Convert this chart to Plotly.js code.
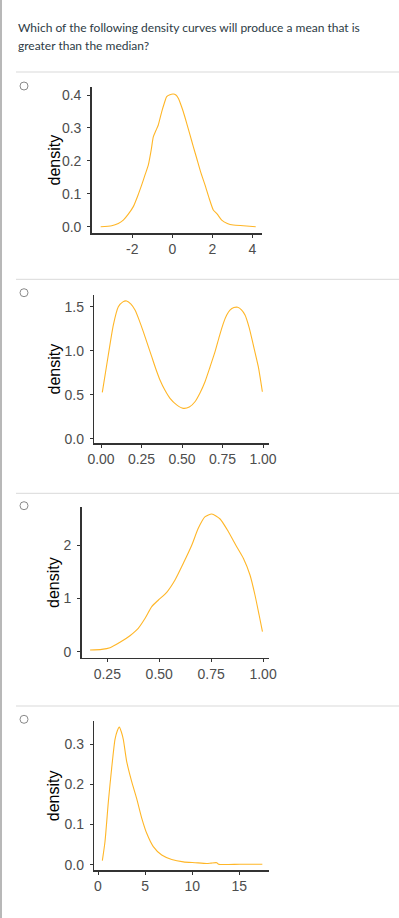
<!DOCTYPE html>
<html>
<head>
<meta charset="utf-8">
<script src="https://cdn.plot.ly/plotly-3.0.1.min.js"></script>
<style>
html,body{margin:0;padding:0;background:#fff;}
#chart{width:399px;height:918px;}
</style>
</head>
<body>
<div id="chart"></div>
<script>
// ---- data ----
const questionLines = ["Which of the following density curves will produce a mean that is", "greater than the median?"];

const normX = [-3.58,-3.03,-2.70,-2.45,-2.20,-1.95,-1.72,-1.53,-1.36,-1.20,-1.05,-0.95,-0.82,-0.70,-0.53,-0.40,-0.28,-0.12,0.05,0.18,0.30,0.42,0.55,0.72,0.885,1.05,1.22,1.42,1.635,1.85,2.05,2.25,2.47,2.75,3.05,3.55,4.17];
const normY = [0.000,0.003,0.010,0.020,0.038,0.061,0.095,0.127,0.158,0.187,0.235,0.273,0.292,0.309,0.349,0.375,0.395,0.401,0.403,0.400,0.390,0.372,0.349,0.314,0.279,0.243,0.208,0.166,0.127,0.085,0.051,0.038,0.020,0.010,0.005,0.003,0.000];

const bimodalX = [0.008,0.045,0.076,0.107,0.135,0.158,0.185,0.21,0.235,0.261,0.287,0.313,0.338,0.364,0.395,0.426,0.467,0.508,0.545,0.580,0.611,0.642,0.673,0.704,0.730,0.755,0.776,0.796,0.820,0.844,0.867,0.889,0.915,0.940,0.971,0.996];
const bimodalY = [0.527,0.951,1.292,1.500,1.555,1.565,1.530,1.462,1.350,1.216,1.075,0.932,0.795,0.667,0.550,0.459,0.385,0.345,0.360,0.420,0.520,0.648,0.815,0.989,1.160,1.311,1.405,1.462,1.490,1.493,1.465,1.406,1.260,1.065,0.818,0.534];

const leftSkewX = [0.167,0.223,0.263,0.311,0.359,0.399,0.432,0.464,0.496,0.536,0.576,0.616,0.657,0.688,0.721,0.753,0.793,0.833,0.873,0.905,0.937,0.961,0.981,0.997];
const leftSkewY = [0.032,0.044,0.075,0.176,0.300,0.438,0.626,0.844,0.969,1.113,1.344,1.657,2.000,2.313,2.531,2.581,2.487,2.249,1.968,1.751,1.438,1.063,0.688,0.375];

const rightSkewX = [0.46,0.74,1.10,1.45,1.80,2.05,2.26,2.48,2.69,3.04,3.57,4.10,4.64,5.17,5.87,6.76,7.82,9.06,10.3,11.54,12.0,12.6,12.8,15.07,17.44];
const rightSkewY = [0.010,0.057,0.157,0.240,0.311,0.333,0.342,0.330,0.311,0.257,0.207,0.165,0.116,0.078,0.045,0.024,0.013,0.007,0.005,0.003,0.004,0.005,0.001,0.001,0.001];

const p1XTicks = [-2,0,2,4], p1XText = ["-2","0","2","4"];
const p1YTicks = [0,0.1,0.2,0.3,0.4], p1YText = ["0.0","0.1","0.2","0.3","0.4"];
const p2XTicks = [0,0.25,0.5,0.75,1], p2XText = ["0.00","0.25","0.50","0.75","1.00"];
const p2YTicks = [0,0.5,1,1.5], p2YText = ["0.0","0.5","1.0","1.5"];
const p3XTicks = [0.25,0.5,0.75,1], p3XText = ["0.25","0.50","0.75","1.00"];
const p3YTicks = [0,1,2], p3YText = ["0","1","2"];
const p4XTicks = [0,5,10,15], p4XText = ["0","5","10","15"];
const p4YTicks = [0,0.1,0.2,0.3], p4YText = ["0.0","0.1","0.2","0.3"];
const yTitle = "density";

// ---- layout helpers (pixel -> paper) ----
const W = 399, H = 918;
const fx = v => v / W;
const fy = v => 1 - v / H;

const panels = [
  {x:normX, y:normY, left:91.7, right:262, top:87, bottom:233, xr:[-4.03,4.485], yr:[-0.0191,0.4243], xt:p1XTicks, xtt:p1XText, yt:p1YTicks, ytt:p1YText, radioY:86, titleY:160},
  {x:bimodalX, y:bimodalY, left:94.3, right:269, top:295, bottom:443, xr:[-0.0414,1.037], yr:[-0.0489,1.633], xt:p2XTicks, xtt:p2XText, yt:p2YTicks, ytt:p2YText, radioY:292.7, titleY:369},
  {x:leftSkewX, y:leftSkewY, left:81.7, right:269.3, top:507, bottom:657.7, xr:[0.1267,1.030], yr:[-0.112,2.712], xt:p3XTicks, xtt:p3XText, yt:p3YTicks, ytt:p3YText, radioY:505.7, titleY:582.5},
  {x:rightSkewX, y:rightSkewY, left:94.3, right:269.3, top:720.7, bottom:870, xr:[-0.393,18.18], yr:[-0.0132,0.358], xt:p4XTicks, xtt:p4XText, yt:p4YTicks, ytt:p4YText, radioY:719.3, titleY:795.7}
];

const traces = [];
const layout = {
  width: W, height: H,
  margin: {l:0, r:0, t:0, b:0},
  paper_bgcolor: '#ffffff', plot_bgcolor: 'rgba(0,0,0,0)',
  showlegend: false,
  annotations: [], shapes: []
};

const tickFont = {family:'Liberation Sans, Arial, sans-serif', size:14, color:'#4d4d4d'};

panels.forEach((p, i) => {
  const n = i + 1;
  const xa = n === 1 ? 'x' : 'x' + n;
  const ya = n === 1 ? 'y' : 'y' + n;
  traces.push({
    type:'scatter', mode:'lines', x:p.x, y:p.y, xaxis:xa, yaxis:ya,
    line:{color:'#FFB627', width:1.1, shape:'spline', smoothing:0.6}, hoverinfo:'skip'
  });
  const common = {
    showgrid:false, zeroline:false, showline:true, linecolor:'#333333', linewidth:1.5,
    ticks:'outside', ticklen:3, tickwidth:1, tickcolor:'#333333',
    tickfont:tickFont, tickmode:'array', fixedrange:true
  };
  layout['xaxis' + (n === 1 ? '' : n)] = Object.assign({}, common, {
    domain:[fx(p.left), fx(p.right)], range:p.xr, anchor:ya,
    tickvals:p.xt, ticktext:p.xtt
  });
  layout['yaxis' + (n === 1 ? '' : n)] = Object.assign({}, common, {
    domain:[fy(p.bottom), fy(p.top)], range:p.yr, anchor:xa,
    tickvals:p.yt, ticktext:p.ytt, ticklabelstandoff:3
  });
  layout.annotations.push({
    xref:'paper', yref:'paper', x:fx(53.5), y:fy(p.titleY), text:yTitle, textangle:-90,
    showarrow:false, xanchor:'center', yanchor:'middle',
    font:{family:'Liberation Sans, Arial, sans-serif', size:16, color:'#000000'}
  });
  // radio button
  layout.shapes.push({
    type:'circle', xref:'paper', yref:'paper',
    x0:fx(20), x1:fx(28), y0:fy(p.radioY + 4), y1:fy(p.radioY - 4),
    line:{color:'#8a8a8a', width:1}, fillcolor:'#ffffff'
  });
});

// separator lines
[72, 279.3, 493.3, 706].forEach(yy => {
  layout.shapes.push({type:'line', xref:'paper', yref:'paper', x0:fx(16), x1:1, y0:fy(yy), y1:fy(yy),
    line:{color:'#d9d9d9', width:1}});
});
// left border
layout.shapes.push({type:'line', xref:'paper', yref:'paper', x0:fx(1), x1:fx(1), y0:0, y1:1,
  line:{color:'#b8b8b8', width:2}});

// question text
questionLines.forEach((t, k) => {
  layout.annotations.push({
    xref:'paper', yref:'paper', x:fx(16), y:fy(27 + 18*k), text:t, showarrow:false,
    xanchor:'left', yanchor:'middle',
    font:{family:'Lato, sans-serif', size:12, color:'#2d3b45'}
  });
});

Plotly.newPlot('chart', traces, layout, {displayModeBar:false, staticPlot:true});
</script>
</body>
</html>
